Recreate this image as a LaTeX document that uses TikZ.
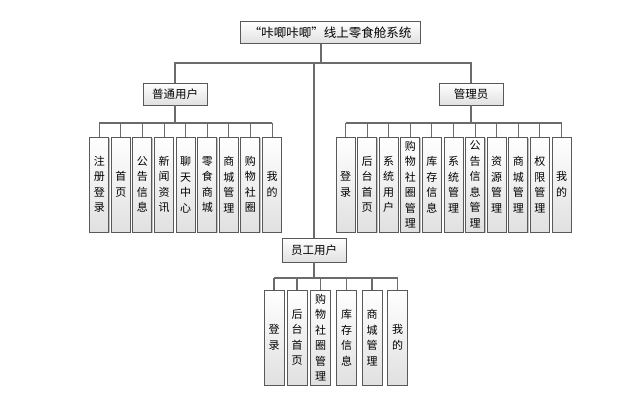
\documentclass[tikz,border=0pt]{standalone}
\usepackage{fontspec}
\newfontfamily\cjk{Noto Sans CJK SC}
\usetikzlibrary{shadows}
\tikzset{
  box/.style={draw=black!65, line width=0.95pt, top color=white, bottom color=black!12,
    drop shadow={shadow xshift=0.9pt, shadow yshift=-0.9pt, fill=black!40, opacity=0.6},
    inner sep=0pt, align=center, font=\cjk\fontsize{11}{15.5}\selectfont},
  hbox/.style={box, minimum width=64pt, minimum height=22pt, font=\cjk\fontsize{11.5}{14}\selectfont},
  vbox/.style={box, minimum width=19pt, minimum height=95pt},
  link/.style={draw=black!58, line width=1.1pt}
}
\begin{document}
\begin{tikzpicture}[x=1pt,y=-1pt]
\useasboundingbox (0,0) rectangle (629,401);
% top level
\node[hbox, minimum width=180pt, font=\cjk\fontsize{12.5}{14}\selectfont] (t) at (330,32.5) {“咔唧咔唧”线上零食舱系统};
\node[hbox] (u) at (175,94) {普通用户};
\node[hbox] (a) at (471,94) {管理员};
\node[hbox, minimum height=24pt] (e) at (314,250) {员工用户};
\coordinate (j) at (321,63);
\coordinate (lb) at (0,123);
\coordinate (bb) at (0,278);
\draw[link] (t.south -| j) -- (j);
\draw[link] (u.north) -- (u.north |- j) -- (a.north |- j) -- (a.north);
\draw[link] (e.north) -- (e.north |- j);
% left group
\foreach \t [count=\i from 0] in {注\\册\\登\\录, 首\\页, 公\\告\\信\\息, 新\\闻\\资\\讯, 聊\\天\\中\\心, 零\\食\\商\\城, 商\\城\\管\\理, 购\\物\\社\\圈, 我\\的}{
  \node[vbox] (l\i) at ({99.25+21.6*\i},184.5) {\t};
  \draw[link] (l\i.north) -- (l\i.north |- lb);
}
\draw[link] (l0.north |- lb) -- (l8.north |- lb);
\draw[link] (u.south) -- (u.south |- lb);
% right group
\foreach \t [count=\i from 0] in {登\\录, 后\\台\\首\\页, 系\\统\\用\\户, 购\\物\\社\\圈\\管\\理, 库\\存\\信\\息, 系\\统\\管\\理, 公\\告\\信\\息\\管\\理, 资\\源\\管\\理, 商\\城\\管\\理, 权\\限\\管\\理, 我\\的}{
  \node[vbox] (r\i) at ({345.5+21.6*\i},184.5) {\t};
  \draw[link] (r\i.north) -- (r\i.north |- lb);
}
\draw[link] (r0.north |- lb) -- (r10.north |- lb);
\draw[link] (a.south) -- (a.south |- lb);
% bottom group
\foreach \t/\x [count=\i from 0] in {登\\录/274, 后\\台\\首\\页/297, 购\\物\\社\\圈\\管\\理/320.5, 库\\存\\信\\息/346.5, 商\\城\\管\\理/372, 我\\的/397.5}{
  \node[vbox, minimum width=20pt] (b\i) at (\x,337.5) {\t};
  \draw[link] (b\i.north) -- (b\i.north |- bb);
}
\draw[link] (b0.north |- bb) -- (b5.north |- bb);
\draw[link] (e.south) -- (e.south |- bb);
\end{tikzpicture}
\end{document}
